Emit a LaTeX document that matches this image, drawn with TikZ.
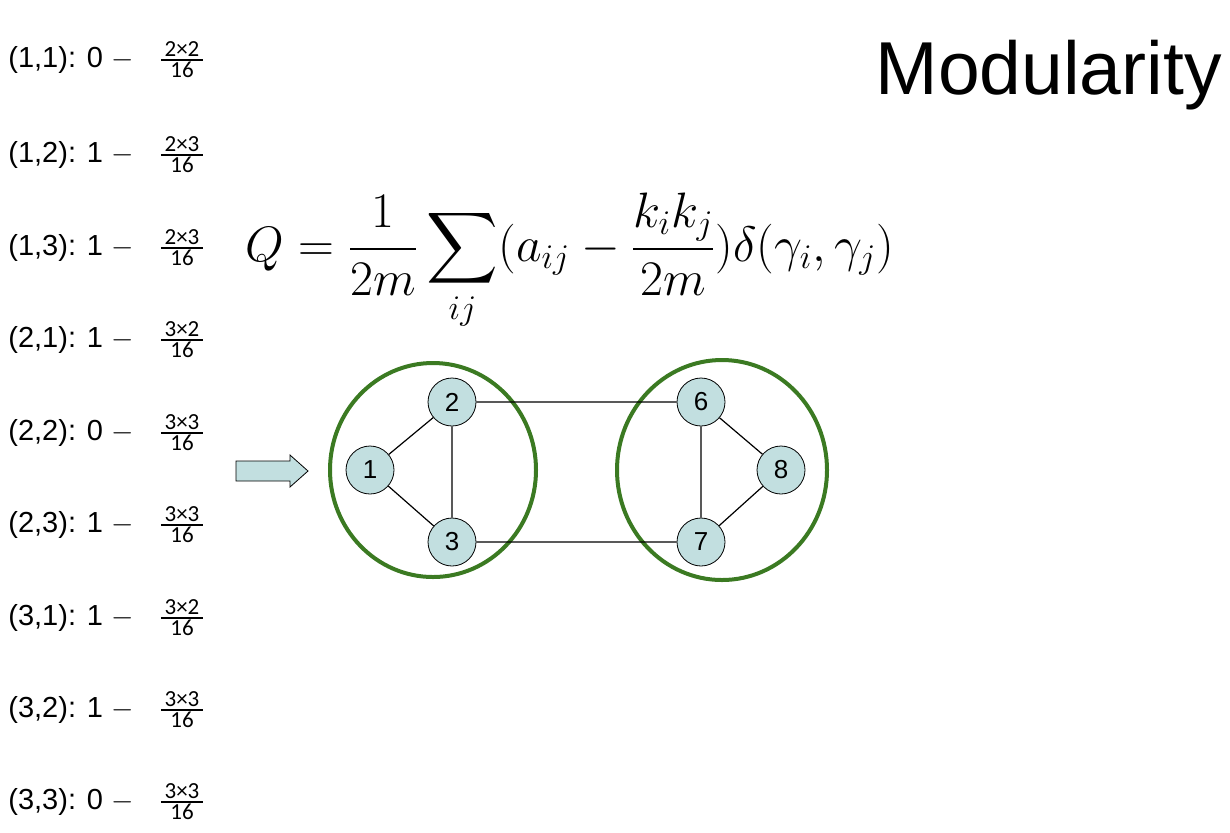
\documentclass[tikz,border=0pt]{standalone}
\usepackage{amsmath}
\usepackage{fontspec}
\setmainfont{Liberation Sans}
\newfontfamily\carl{Carlito}
\definecolor{nodefill}{HTML}{C2DFE0}
\definecolor{grpgreen}{HTML}{3B7A22}
\begin{document}
\begin{tikzpicture}[x=0.5pt,y=-0.5pt,
  vtx/.style={circle,draw,fill=nodefill,inner sep=0pt,minimum size=24pt,font=\fontsize{13}{13}\selectfont},
  grp/.style={draw=grpgreen,line width=2pt},
  lbl/.style={anchor=west,font=\fontsize{14.5}{15}\selectfont,inner sep=0pt},
  frc/.style={inner sep=0pt}]
\useasboundingbox (0,0) rectangle (1230,832);
\node[anchor=east,inner sep=0pt,font=\fontsize{37.5}{40}\selectfont] (title) at (1222,75) {Modularity};
\newcommand{\fr}[2]{$\genfrac{}{}{0.9pt}{}{\hbox{\carl\fontsize{11.5}{12}\selectfont\,#1\,}}{\hbox{\carl\fontsize{11.5}{12}\selectfont #2}}$}
\foreach \i/\l/\v/\n [count=\k] in {60/{(1,1)}/0/2×2, 155/{(1,2)}/1/2×3, 248/{(1,3)}/1/2×3, 340/{(2,1)}/1/3×2, 433/{(2,2)}/0/3×3, 525/{(2,3)}/1/3×3, 618/{(3,1)}/1/3×2, 710/{(3,2)}/1/3×3, 802/{(3,3)}/0/3×3}{
  \node[lbl] (l\k) at (8,\i) {\l: \v\ $-$};
  \node[frc] (f\k) at (182,\i) {\fr{\n}{16}};
}
\node[inner sep=0pt] (Q) at (570,262) {\fontsize{23.5}{28}\selectfont $\displaystyle Q=\frac{1}{2m}\sum_{ij}(a_{ij}-\frac{k_ik_j}{2m})\delta(\gamma_i,\gamma_j)$};
\draw[grp] (433,470) ellipse [x radius=103, y radius=107];
\draw[grp] (722,470) ellipse [x radius=105, y radius=110];
\node[vtx] (n1) at (370,470) {1};
\node[vtx] (n2) at (452,402) {2};
\node[vtx] (n3) at (452,542) {3};
\node[vtx] (n6) at (701,402) {6};
\node[vtx] (n7) at (701,542) {7};
\node[vtx] (n8) at (781,470) {8};
\draw[line width=0.6pt] (n1)--(n2) (n1)--(n3) (n2)--(n3) (n6)--(n7) (n6)--(n8) (n7)--(n8) (n2)--(n6) (n3)--(n7);
\draw[fill=nodefill] (236,461)--(290,461)--(290,455)--(308,471)--(290,487)--(290,481)--(236,481)--cycle;
\end{tikzpicture}
\end{document}
